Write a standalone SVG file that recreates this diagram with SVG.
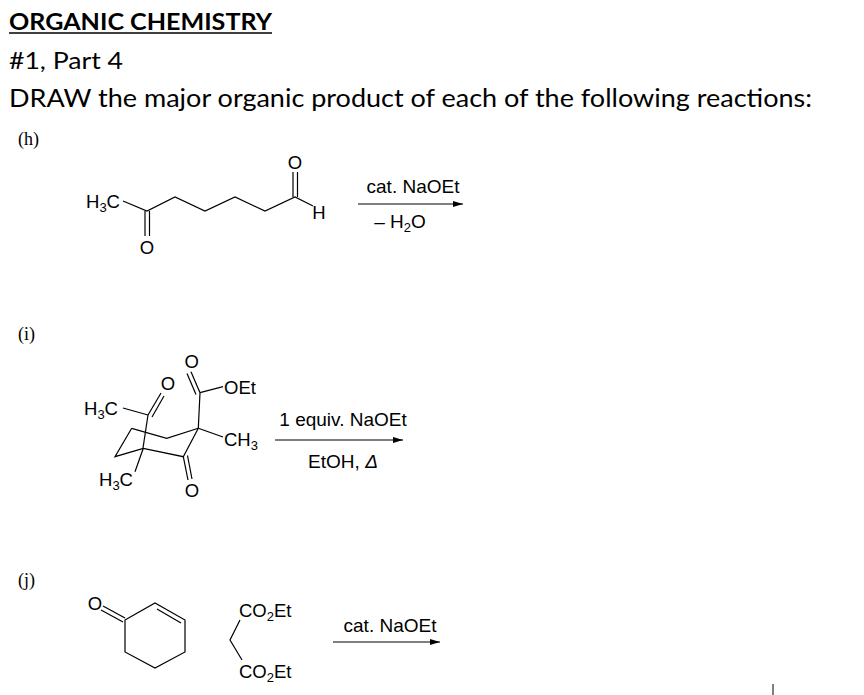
<svg xmlns="http://www.w3.org/2000/svg" width="864" height="695" viewBox="0 0 864 695">
<defs>
<style>
.b{stroke:#000;stroke-width:1.2;fill:none}
.t{font-family:"Liberation Sans",Arial,sans-serif;font-size:18.5px;fill:#000}
.r{font-size:19px}
.s{font-size:13px}
.h{font-family:Lato,"Open Sans","Liberation Sans",sans-serif;fill:#000}
.l{font-family:"Liberation Serif",serif;font-size:18px;fill:#000}
</style>
<marker id="a" viewBox="0 0 10 6" refX="10" refY="3" markerWidth="10" markerHeight="6" markerUnits="userSpaceOnUse" orient="auto"><path d="M0,0L10,3L0,6z" fill="#000"/></marker>
</defs>
<rect width="864" height="695" fill="#fff"/>
<g id="header">
<text class="h" x="9" y="30" font-size="23" font-weight="bold" textLength="263" lengthAdjust="spacingAndGlyphs">ORGANIC CHEMISTRY</text>
<line x1="9" y1="33" x2="272" y2="33" stroke="#000" stroke-width="1.5"/>
<text class="h" x="9" y="69" font-size="24" textLength="114" lengthAdjust="spacingAndGlyphs">#1, Part 4</text>
<text class="h" x="9" y="107" font-size="25" textLength="803" lengthAdjust="spacingAndGlyphs">DRAW the major organic product of each of the following reactions:</text>
<text class="l" x="18" y="145">(h)</text>
<text class="l" x="18" y="340">(i)</text>
<text class="l" x="18" y="586">(j)</text>
<line x1="773" y1="684" x2="773" y2="695" stroke="#000" stroke-width="1"/>
</g>
<g id="mol-h">
<text class="t" x="86" y="208">H<tspan class="s" dy="4">3</tspan><tspan dy="-4">C</tspan></text>
<polyline class="b" points="123,201 147,211 175,197 205,211 235,197 265,211 295,197 313,206"/>
<line class="b" x1="145" y1="211" x2="145" y2="236"/><line class="b" x1="149.5" y1="211" x2="149.5" y2="236"/>
<text class="t" x="147" y="254" text-anchor="middle">O</text>
<line class="b" x1="293" y1="197" x2="293" y2="172"/><line class="b" x1="297.5" y1="197" x2="297.5" y2="172"/>
<text class="t" x="295" y="169" text-anchor="middle">O</text>
<text class="t" x="319" y="219" text-anchor="middle">H</text>
</g>
<g id="mol-i">
<text class="t" x="84" y="415">H<tspan class="s" dy="4">3</tspan><tspan dy="-4">C</tspan></text>
<line class="b" x1="123" y1="408" x2="148" y2="415"/>
<line class="b" x1="148" y1="415" x2="161" y2="393"/><line class="b" x1="152" y1="417" x2="164" y2="396"/>
<text class="t" x="168" y="390" text-anchor="middle">O</text>
<line class="b" x1="148" y1="415" x2="143" y2="448"/>
<polyline class="b" points="131.7,428.3 166.7,438.3 198.3,428.3"/>
<polyline class="b" points="131.7,428.3 115,456.7 143.3,448.3 183.3,456.7 198.3,428.3"/>
<line class="b" x1="183.3" y1="456.7" x2="188" y2="480"/><line class="b" x1="187.5" y1="455.5" x2="192" y2="479"/>
<text class="t" x="192" y="497" text-anchor="middle">O</text>
<line class="b" x1="143.3" y1="448.3" x2="135" y2="471.7"/>
<text class="t" x="99" y="486">H<tspan class="s" dy="4">3</tspan><tspan dy="-4">C</tspan></text>
<line class="b" x1="198.3" y1="428.3" x2="223" y2="437"/>
<text class="t" x="224" y="446">CH<tspan class="s" dy="4">3</tspan></text>
<line class="b" x1="198.3" y1="428.3" x2="200" y2="392.7"/>
<line class="b" x1="200" y1="392.7" x2="191" y2="371.7"/><line class="b" x1="196" y1="394.5" x2="187" y2="373.5"/>
<text class="t" x="191.7" y="368" text-anchor="middle">O</text>
<line class="b" x1="200" y1="392.7" x2="223" y2="386.7"/>
<text class="t" x="224" y="394">OEt</text>
</g>
<g id="mol-j">
<text class="t" x="95" y="610" text-anchor="middle">O</text>
<line class="b" x1="103" y1="606" x2="125" y2="618"/><line class="b" x1="101" y1="610" x2="123" y2="622"/>
<polygon class="b" points="125,620 155,603 185,620 185,652 155,668 125,652"/>
<line class="b" x1="157" y1="609" x2="181" y2="623"/>
<text class="t" x="239" y="617">CO<tspan class="s" dy="4">2</tspan><tspan dy="-4">Et</tspan></text>
<polyline class="b" points="240,620 230,640 242,660"/>
<text class="t" x="239" y="678">CO<tspan class="s" dy="4">2</tspan><tspan dy="-4">Et</tspan></text>
</g>
<g id="connectors">
<line class="b" x1="358" y1="204" x2="463" y2="204" marker-end="url(#a)"/>
<line class="b" x1="275" y1="440" x2="403" y2="440" marker-end="url(#a)"/>
<line class="b" x1="333" y1="642" x2="440" y2="642" marker-end="url(#a)"/>
</g>
<g id="labels">
<text class="t r" x="413" y="193" text-anchor="middle">cat. NaOEt</text>
<text class="t r" x="400" y="228" text-anchor="middle">– H<tspan class="s" dy="4">2</tspan><tspan dy="-4">O</tspan></text>
<text class="t r" x="343" y="426" text-anchor="middle">1 equiv. NaOEt</text>
<text class="t r" x="343" y="468" text-anchor="middle">EtOH, <tspan font-style="italic">Δ</tspan></text>
<text class="t r" x="390" y="632" text-anchor="middle">cat. NaOEt</text>
</g>
</svg>
